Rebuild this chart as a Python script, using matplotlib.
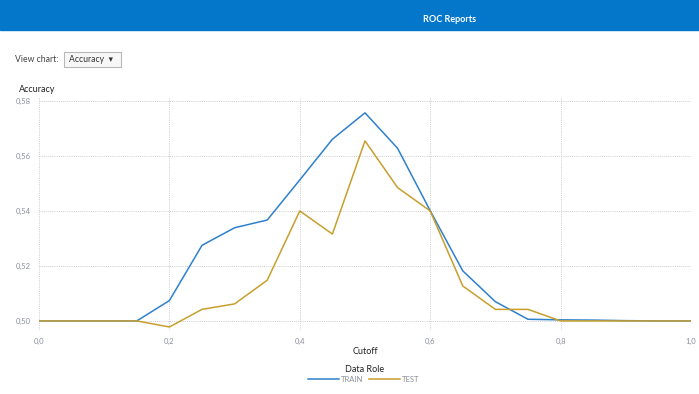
import numpy as np
import matplotlib
matplotlib.use('Agg')
import matplotlib.pyplot as plt
from matplotlib.patches import Rectangle
from matplotlib.lines import Line2D
from matplotlib.ticker import FuncFormatter

# Werte
cutoff = [0.0, 0.05, 0.10, 0.15, 0.20, 0.25, 0.30, 0.35, 0.40, 0.45, 0.50,
          0.55, 0.60, 0.65, 0.70, 0.75, 0.80, 0.85, 0.90, 0.95, 1.0]
train_acc = [0.5, 0.5, 0.5, 0.5, 0.5074, 0.5275, 0.5339, 0.5367, 0.5513, 0.5661, 0.5757,
             0.5628, 0.5401, 0.5182, 0.5070, 0.5006, 0.5004, 0.5003, 0.5001, 0.5, 0.5]
test_acc = [0.5, 0.5, 0.5, 0.5, 0.4978, 0.5042, 0.5062, 0.5148, 0.5400, 0.5316, 0.5655,
            0.5485, 0.5400, 0.5127, 0.5042, 0.5042, 0.5, 0.5, 0.5, 0.5, 0.5]
x_ticks = [0.0, 0.2, 0.4, 0.6, 0.8, 1.0]
y_ticks = [0.50, 0.52, 0.54, 0.56, 0.58]

plt.rcParams['font.family'] = ['Lato', 'DejaVu Sans']

c_train = '#2F80CC'
c_test = '#C89F2D'
c_tick = '#8A8F99'

fig = plt.figure(figsize=(6.99, 3.94), dpi=100)

# Kopfzeile
fig.patches.append(Rectangle((0, 1 - 30/394), 1, 30/394, transform=fig.transFigure,
                             color='#0477CB', zorder=0))
fig.text(450/699, 1 - 20/394, 'ROC Reports', color='white', fontsize=6.5,
         fontweight='bold', ha='center', va='center')

# Auswahl "View chart"
fig.text(15/699, 1 - 59/394, 'View chart:', color='#444444', fontsize=6.2, va='center')
fig.patches.append(Rectangle((64/699, 1 - 67/394), 57/699, 15/394, transform=fig.transFigure,
                             facecolor='#F7F7F7', edgecolor='#B8B8B8', lw=0.8))
fig.text(69/699, 1 - 59.5/394, 'Accuracy  \u25be', color='#333333', fontsize=6.2, va='center')

ax = fig.add_axes([39/699, 1 - 330/394, 652/699, 232/394])
ax.plot(cutoff, train_acc, color=c_train, lw=1.1, label='TRAIN')
ax.plot(cutoff, test_acc, color=c_test, lw=1.1, label='TEST')

ax.set_xlim(0, 1.0)
ax.set_ylim(0.4967, 0.5811)
ax.set_xticks(x_ticks)
ax.set_yticks(y_ticks)
ax.xaxis.set_major_formatter(FuncFormatter(lambda v, p: f'{v:.1f}'.replace('.', ',')))
ax.yaxis.set_major_formatter(FuncFormatter(lambda v, p: f'{v:.2f}'.replace('.', ',')))
ax.tick_params(length=0, labelsize=5.5, labelcolor=c_tick, pad=6)
ax.grid(True, color='#CDCDCD', ls=(0, (1, 1.2)), lw=0.7)
ax.set_axisbelow(True)
for s in ax.spines.values():
    s.set_visible(False)

fig.text(19/699, 1 - 89/394, 'Accuracy', color='#222222', fontsize=6.5, va='center')
fig.text(365/699, 1 - 352/394, 'Cutoff', color='#222222', fontsize=6.5, ha='center', va='center')
fig.text(365/699, 1 - 370/394, 'Data Role', color='#222222', fontsize=6.5, ha='center', va='center')

handles = [Line2D([], [], color=c_train, lw=1.1), Line2D([], [], color=c_test, lw=1.1)]
leg = fig.legend(handles, ['TRAIN', 'TEST'], loc='center', bbox_to_anchor=(364/699, 1 - 379/394),
                 ncol=2, frameon=False, fontsize=5.5, handlelength=4.0, handletextpad=0.3,
                 columnspacing=0.8)
for t in leg.get_texts():
    t.set_color(c_tick)

fig.savefig('out.png', dpi=100)
